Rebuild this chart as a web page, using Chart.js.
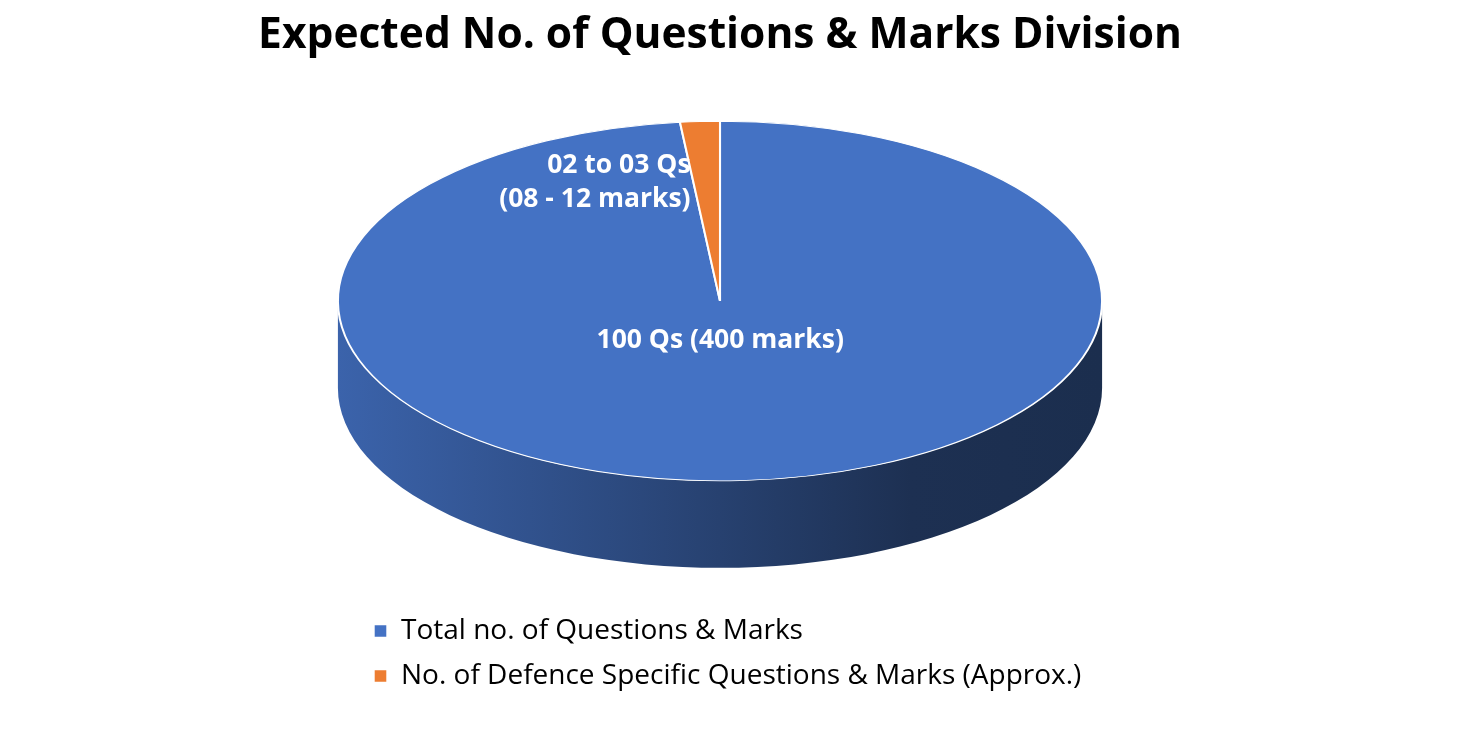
<!DOCTYPE html>
<html>
<head>
<meta charset="utf-8">
<script src="https://cdn.jsdelivr.net/npm/chart.js@4.4.1/dist/chart.umd.min.js"></script>
<style>
  html, body { margin: 0; padding: 0; background: #fff; }
  #wrap { width: 1462px; height: 730px; }
</style>
</head>
<body>
<div id="wrap"><canvas id="pieChart"></canvas></div>
<script>
// chart data
const chartTitle = "Expected No. of Questions & Marks Division";
const categories = ["Total no. of Questions & Marks", "No. of Defence Specific Questions & Marks (Approx.)"];
const questionShare = [100, 1.7];
const sliceColors = ["#4472c4", "#ed7d31"];
const sliceLabels = [["100 Qs (400 marks)"], ["02 to 03 Qs", "(08 - 12 marks)"]];

// darken a hex colour by factor f (0..1)
function shade(hex, f) {
  const n = parseInt(hex.slice(1), 16);
  const r = Math.round(((n >> 16) & 255) * f);
  const g = Math.round(((n >> 8) & 255) * f);
  const b = Math.round((n & 255) * f);
  return `rgb(${r},${g},${b})`;
}

// title drawn by hand: the built-in one gets squeezed to the padded layout width
const wideTitle = {
  id: "wideTitle",
  afterDraw(chart, args, opts) {
    const ctx = chart.ctx;
    const area = chart.chartArea;
    ctx.save();
    ctx.fillStyle = "#000";
    ctx.font = opts.font;
    ctx.textAlign = "center";
    ctx.textBaseline = "middle";
    ctx.fillText(chartTitle, (area.left + area.right) / 2, opts.y);
    ctx.restore();
  },
};

// fake 3D: squash the pie into an ellipse and draw the side wall below it
const pie3d = {
  id: "pie3d",
  geom(chart, opts) {
    const meta = chart.getDatasetMeta(0);
    const a = meta.data[0];
    const R = a.outerRadius;
    const depth = R * opts.depth;
    return { meta, x: a.x, y: a.y, R, rx: R * opts.scaleX, ry: R * opts.scaleY, depth, cy: a.y - depth / 2 + opts.shiftY };
  },
  beforeDatasetsDraw(chart, args, opts) {
    const ctx = chart.ctx;
    const g = this.geom(chart, opts);
    g.meta.data.forEach((arc, i) => {
      const s = Math.max(arc.startAngle, 0);
      const e = Math.min(arc.endAngle, Math.PI);
      if (s >= e) return;
      const grad = ctx.createLinearGradient(g.x - g.rx, 0, g.x + g.rx, 0);
      grad.addColorStop(0, shade(sliceColors[i], 0.87));
      grad.addColorStop(0.75, shade(sliceColors[i], 0.42));
      grad.addColorStop(1, shade(sliceColors[i], 0.4));
      ctx.beginPath();
      ctx.ellipse(g.x, g.cy, g.rx, g.ry, 0, s, e);
      ctx.ellipse(g.x, g.cy + g.depth, g.rx, g.ry, 0, e, s, true);
      ctx.closePath();
      ctx.fillStyle = grad;
      ctx.fill();
    });
    ctx.save();
    ctx.translate(g.x, g.cy);
    ctx.scale(g.rx / g.R, g.ry / g.R);
    ctx.translate(-g.x, -g.y);
  },
  afterDatasetsDraw(chart, args, opts) {
    const ctx = chart.ctx;
    ctx.restore();
    const g = this.geom(chart, opts);
    ctx.save();
    ctx.fillStyle = "#fff";
    ctx.font = "bold 26.5px 'Open Sans'";
    ctx.textBaseline = "middle";
    g.meta.data.forEach((arc, i) => {
      const mid = (arc.startAngle + arc.endAngle) / 2;
      const f = opts.labelRadius[i];
      const px = g.x + Math.cos(mid) * g.rx * f;
      const py = g.cy + Math.sin(mid) * g.ry * f;
      const lines = sliceLabels[i];
      const lh = 34;
      ctx.textAlign = i === 0 ? "center" : "right";
      const lx = i === 0 ? px - 4 : px - 16;
      lines.forEach((t, k) => {
        ctx.fillText(t, lx, py + 2 + (k - (lines.length - 1) / 2) * lh);
      });
    });
    ctx.restore();
  },
};

new Chart(document.getElementById("pieChart"), {
  type: "pie",
  data: {
    labels: categories,
    datasets: [
      {
        data: questionShare,
        backgroundColor: sliceColors,
        borderColor: "#ffffff",
        borderWidth: 1.4,
        clip: false,
      },
    ],
  },
  options: {
    responsive: true,
    maintainAspectRatio: false,
    animation: false,
    layout: { padding: { left: 357, right: 379, top: 84, bottom: 30 } },
    plugins: {
      title: { display: false },
      legend: {
        position: "bottom",
        align: "start",
        labels: {
          color: "#000",
          font: { family: "Open Sans", size: 28 },
          boxWidth: 13,
          boxHeight: 13,
          padding: 17,
        },
      },
      tooltip: { enabled: false },
      wideTitle: { font: "bold 42.5px 'Open Sans'", y: 36 },
      pie3d: { scaleX: 1.485, scaleY: 0.699, depth: 0.338, shiftY: 2.5, labelRadius: [0.21, 0.67] },
    },
  },
  plugins: [pie3d, wideTitle],
});
</script>
</body>
</html>
